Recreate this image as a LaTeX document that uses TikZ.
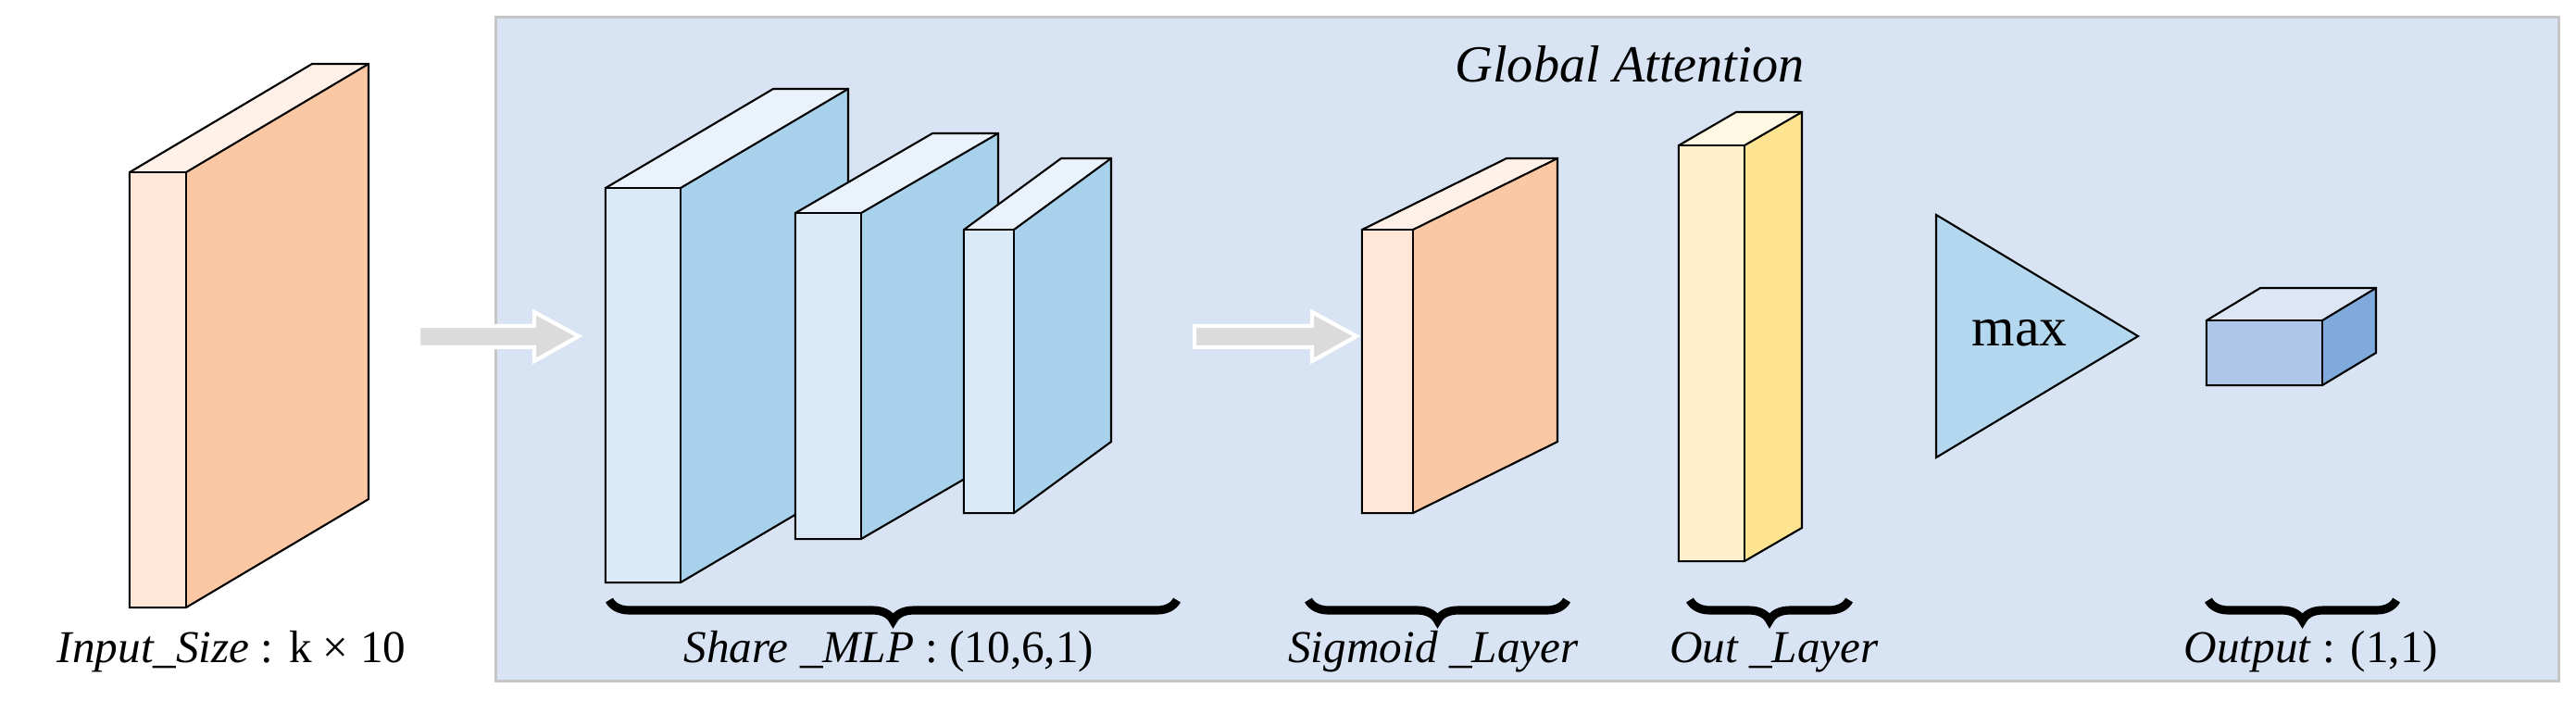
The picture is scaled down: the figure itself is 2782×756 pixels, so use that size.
\documentclass[tikz,border=0pt]{standalone}
\usepackage{fontspec}
\setmainfont{Liberation Serif}
\usetikzlibrary{decorations.pathreplacing}
\definecolor{bgblue}{HTML}{D8E3F3}
\definecolor{orF}{HTML}{FFE6D7}\definecolor{orS}{HTML}{FCC8A4}\definecolor{orT}{HTML}{FFF1E8}
\definecolor{blF}{HTML}{DAEAF7}\definecolor{blS}{HTML}{A8D2EB}\definecolor{blT}{HTML}{EAF3FB}
\definecolor{yeF}{HTML}{FFF0CB}\definecolor{yeS}{HTML}{FEE490}\definecolor{yeT}{HTML}{FFF8E2}
\definecolor{cuF}{HTML}{AEC6E8}\definecolor{cuS}{HTML}{80AADB}\definecolor{cuT}{HTML}{DCE6F4}
\definecolor{triC}{HTML}{B2D7EF}
\newcommand{\slab}[8]{% name,x,y,w,h,dx,dy,color-prefix
  \fill[#8T] (#2,#3) -- ++(#6,-#7) -- ++(#4,0) -- ++(-#6,#7) -- cycle;
  \fill[#8S] (#2+#4,#3) -- ++(#6,-#7) -- ++(0,#5) -- ++(-#6,#7) -- cycle;
  \draw[shp] (#2,#3) -- ++(#6,-#7) -- ++(#4,0) -- ++(0,#5) -- ++(-#6,#7) -- ++(-#4,0) -- cycle;
  \node[shp,fill=#8F,minimum width=#4*0.01cm,minimum height=#5*0.01cm,anchor=north west,draw] (#1) at (#2,#3) {};
  \draw[shp] (#1.north east) -- ++(#6,-#7);}
\newcommand{\garrow}[2]{% x-start, tip x
  \draw[fill=gray!28,draw=white,line width=1.2pt] (#1,352) -- (#2-48,352) -- (#2-48,337) -- (#2,363) -- (#2-48,390) -- (#2-48,375) -- (#1,375) -- cycle;}
\tikzset{
  shp/.style={line width=0.6pt,inner sep=0pt,outer sep=0pt},
  lbl/.style={font=\fontsize{14}{16}\selectfont},
  brc/.style={decorate,decoration={brace,mirror,amplitude=0.22cm},line width=2.6pt}
}
\begin{document}
\begin{tikzpicture}[x=0.01cm,y=-0.01cm]
\useasboundingbox (0,0) rectangle (2782,756);
\node[draw=gray!45,fill=bgblue,line width=0.8pt,minimum width=22.27cm,minimum height=7.17cm,anchor=north west,inner sep=0pt] (bg) at (534,17) {};
\node[font=\fontsize{16}{18}\selectfont\itshape] (title) at (1760,69) {Global Attention};
\slab{inp}{140}{186}{61}{470}{197}{117}{or}
\node[lbl] (inpl) at (250,704) {\textit{Input\_Size} : k × 10};
\garrow{452}{625}
\slab{m1}{654}{203}{81}{426}{181}{107}{bl}
\slab{m2}{859}{230}{71}{352}{148}{86}{bl}
\slab{m3}{1041}{248}{54}{306}{105}{77}{bl}
\garrow{1290}{1465}
\slab{sg}{1471}{248}{55}{306}{156}{77}{or}
\slab{ol}{1813}{157}{71}{449}{62}{36}{ye}
\coordinate (t1) at (2091,232);\coordinate (t2) at (2309,363);\coordinate (t3) at (2091,494);
\draw[shp,fill=triC] (t1) -- (t2) -- (t3) -- cycle;
\node[font=\fontsize{17}{19}\selectfont] (mx) at (2181,360) {max};
\slab{cu}{2383}{346}{125}{70}{58}{35}{cu}
\coordinate (b1l) at (658,648);\coordinate (b1r) at (1271,648);
\draw[brc] (b1l) -- (b1r);
\coordinate (b2l) at (1413,648);\coordinate (b2r) at (1692,648);
\draw[brc] (b2l) -- (b2r);
\coordinate (b3l) at (1825,648);\coordinate (b3r) at (1997,648);
\draw[brc] (b3l) -- (b3r);
\coordinate (b4l) at (2385,648);\coordinate (b4r) at (2588,648);
\draw[brc] (b4l) -- (b4r);
\node[lbl] (l1) at (960,704) {\textit{Share \_MLP} : (10,6,1)};
\node[lbl] (l2) at (1548,704) {\textit{Sigmoid \_Layer}};
\node[lbl] (l3) at (1916,704) {\textit{Out \_Layer}};
\node[lbl] (l4) at (2496,704) {\textit{Output} : (1,1)};
\end{tikzpicture}
\end{document}
